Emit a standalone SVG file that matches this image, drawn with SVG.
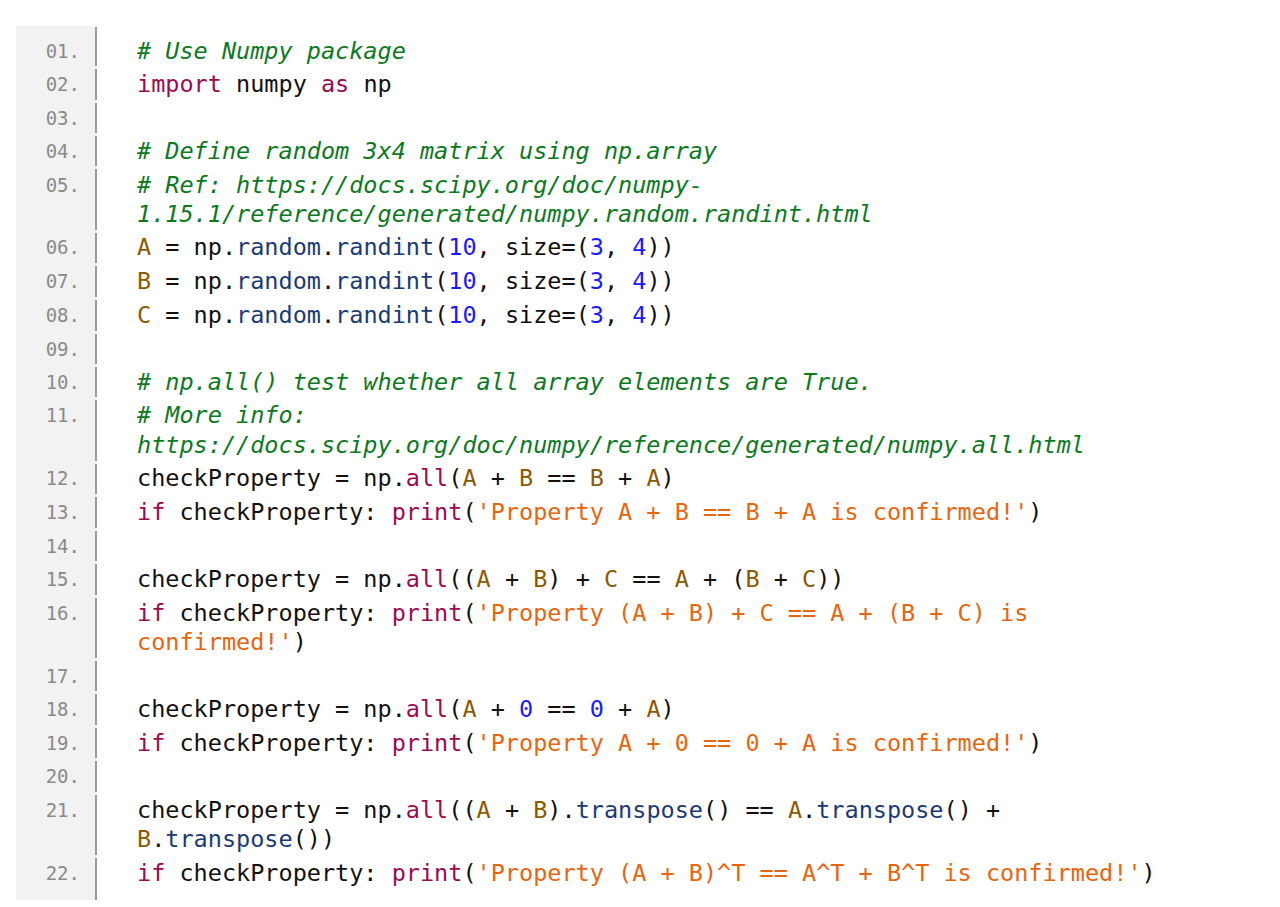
<svg xmlns="http://www.w3.org/2000/svg" width="1280" height="907" viewBox="0 0 1280 907">
<style>
.ln{font-family:"DejaVu Sans Mono",monospace;font-size:19px;fill:#8a8a8a;text-anchor:end}
.c{font-family:"DejaVu Sans Mono","Liberation Mono",monospace;font-size:23.5px;fill:#111}
.cm{fill:#0b7a1f;font-style:italic}
.k{fill:#9c0a4f}
.v{fill:#8c5a00}
.n{fill:#1a1aff}
.f{fill:#1a3a78}
.s{fill:#e8650e}
.sep{stroke:#999;stroke-width:2}
</style>
<rect width="1280" height="907" fill="#fff"/>
<rect x="16" y="26" width="80" height="874" fill="#f2f2f2"/>
<g id="gutter">
<g class="sep">
<line x1="96" y1="27" x2="96" y2="66"/><line x1="96" y1="69" x2="96" y2="100"/><line x1="96" y1="103" x2="96" y2="133"/><line x1="96" y1="136" x2="96" y2="166"/><line x1="96" y1="169" x2="96" y2="230"/><line x1="96" y1="233" x2="96" y2="263"/><line x1="96" y1="266" x2="96" y2="297"/><line x1="96" y1="300" x2="96" y2="331"/><line x1="96" y1="334" x2="96" y2="364"/><line x1="96" y1="367" x2="96" y2="397"/><line x1="96" y1="400" x2="96" y2="461"/><line x1="96" y1="464" x2="96" y2="494"/><line x1="96" y1="497" x2="96" y2="528"/><line x1="96" y1="531" x2="96" y2="561"/><line x1="96" y1="564" x2="96" y2="595"/><line x1="96" y1="598" x2="96" y2="658"/><line x1="96" y1="661" x2="96" y2="691"/><line x1="96" y1="694" x2="96" y2="725"/><line x1="96" y1="728" x2="96" y2="758"/><line x1="96" y1="761" x2="96" y2="792"/><line x1="96" y1="795" x2="96" y2="855"/><line x1="96" y1="858" x2="96" y2="900"/>
</g>
<g class="ln">
<text x="80" y="58">01.</text><text x="80" y="91">02.</text><text x="80" y="125">03.</text><text x="80" y="158">04.</text><text x="80" y="192">05.</text><text x="80" y="254">06.</text><text x="80" y="288">07.</text><text x="80" y="322">08.</text><text x="80" y="356">09.</text><text x="80" y="389">10.</text><text x="80" y="422">11.</text><text x="80" y="485">12.</text><text x="80" y="519">13.</text><text x="80" y="553">14.</text><text x="80" y="586">15.</text><text x="80" y="620">16.</text><text x="80" y="683">17.</text><text x="80" y="716">18.</text><text x="80" y="750">19.</text><text x="80" y="783">20.</text><text x="80" y="817">21.</text><text x="80" y="880">22.</text>
</g>
</g>
<g id="code" class="c" xml:space="preserve">
<text x="137" y="59" class="cm"># Use Numpy package</text>
<text x="137" y="92"><tspan class="k">import</tspan> numpy <tspan class="k">as</tspan> np</text>
<text x="137" y="159" class="cm"># Define random 3x4 matrix using np.array</text>
<text x="137" y="193" class="cm"># Ref: https://docs.scipy.org/doc/numpy-</text>
<text x="137" y="222" class="cm">1.15.1/reference/generated/numpy.random.randint.html</text>
<text x="137" y="255"><tspan class="v">A</tspan> = np.<tspan class="f">random</tspan>.<tspan class="f">randint</tspan>(<tspan class="n">10</tspan>, size=(<tspan class="n">3</tspan>, <tspan class="n">4</tspan>))</text>
<text x="137" y="289"><tspan class="v">B</tspan> = np.<tspan class="f">random</tspan>.<tspan class="f">randint</tspan>(<tspan class="n">10</tspan>, size=(<tspan class="n">3</tspan>, <tspan class="n">4</tspan>))</text>
<text x="137" y="323"><tspan class="v">C</tspan> = np.<tspan class="f">random</tspan>.<tspan class="f">randint</tspan>(<tspan class="n">10</tspan>, size=(<tspan class="n">3</tspan>, <tspan class="n">4</tspan>))</text>
<text x="137" y="390" class="cm"># np.all() test whether all array elements are True.</text>
<text x="137" y="423" class="cm"># More info:</text>
<text x="137" y="453" class="cm">https://docs.scipy.org/doc/numpy/reference/generated/numpy.all.html</text>
<text x="137" y="486">checkProperty = np.<tspan class="k">all</tspan>(<tspan class="v">A</tspan> + <tspan class="v">B</tspan> == <tspan class="v">B</tspan> + <tspan class="v">A</tspan>)</text>
<text x="137" y="520"><tspan class="k">if</tspan> checkProperty: <tspan class="k">print</tspan>(<tspan class="s">'Property A + B == B + A is confirmed!'</tspan>)</text>
<text x="137" y="587">checkProperty = np.<tspan class="k">all</tspan>((<tspan class="v">A</tspan> + <tspan class="v">B</tspan>) + <tspan class="v">C</tspan> == <tspan class="v">A</tspan> + (<tspan class="v">B</tspan> + <tspan class="v">C</tspan>))</text>
<text x="137" y="621"><tspan class="k">if</tspan> checkProperty: <tspan class="k">print</tspan>(<tspan class="s">'Property (A + B) + C == A + (B + C) is</tspan></text>
<text x="137" y="650"><tspan class="s">confirmed!'</tspan>)</text>
<text x="137" y="717">checkProperty = np.<tspan class="k">all</tspan>(<tspan class="v">A</tspan> + <tspan class="n">0</tspan> == <tspan class="n">0</tspan> + <tspan class="v">A</tspan>)</text>
<text x="137" y="751"><tspan class="k">if</tspan> checkProperty: <tspan class="k">print</tspan>(<tspan class="s">'Property A + 0 == 0 + A is confirmed!'</tspan>)</text>
<text x="137" y="818">checkProperty = np.<tspan class="k">all</tspan>((<tspan class="v">A</tspan> + <tspan class="v">B</tspan>).<tspan class="f">transpose</tspan>() == <tspan class="v">A</tspan>.<tspan class="f">transpose</tspan>() +</text>
<text x="137" y="847"><tspan class="v">B</tspan>.<tspan class="f">transpose</tspan>())</text>
<text x="137" y="881"><tspan class="k">if</tspan> checkProperty: <tspan class="k">print</tspan>(<tspan class="s">'Property (A + B)^T == A^T + B^T is confirmed!'</tspan>)</text>
</g>
</svg>
